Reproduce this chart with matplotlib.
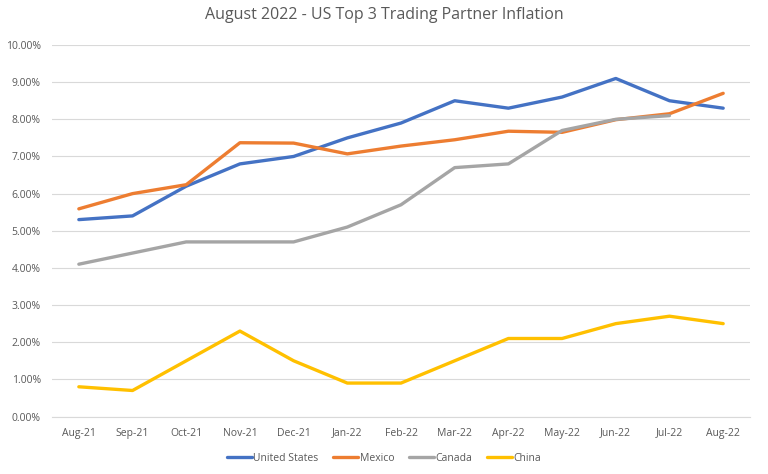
import matplotlib
matplotlib.use("Agg")
import matplotlib.pyplot as plt
from matplotlib.ticker import FuncFormatter

months = ["Aug-21", "Sep-21", "Oct-21", "Nov-21", "Dec-21", "Jan-22", "Feb-22",
          "Mar-22", "Apr-22", "May-22", "Jun-22", "Jul-22", "Aug-22"]

us = [5.3, 5.4, 6.2, 6.8, 7.0, 7.5, 7.9, 8.5, 8.3, 8.6, 9.1, 8.5, 8.3]
mexico = [5.59, 6.0, 6.24, 7.37, 7.36, 7.07, 7.28, 7.45, 7.68, 7.65, 7.99, 8.15, 8.70]
canada = [4.1, 4.4, 4.7, 4.7, 4.7, 5.1, 5.7, 6.7, 6.8, 7.7, 8.0, 8.1]  # no Aug-22 value
china = [0.8, 0.7, 1.5, 2.3, 1.5, 0.9, 0.9, 1.5, 2.1, 2.1, 2.5, 2.7, 2.5]

plt.rcParams['font.family'] = ['Open Sans', 'DejaVu Sans']

fig = plt.figure(figsize=(7.68, 4.74), dpi=100)
ax = fig.add_axes([0.0677, 0.1213, 0.9089, 0.7837])

x = list(range(len(months)))
ax.plot(x, us, color="#4472C4", lw=2.4, label="United States", solid_capstyle="round")
ax.plot(x, mexico, color="#ED7D31", lw=2.4, label="Mexico", solid_capstyle="round")
ax.plot(x[:len(canada)], canada, color="#A5A5A5", lw=2.4, label="Canada", solid_capstyle="round")
ax.plot(x, china, color="#FFC000", lw=2.4, label="China", solid_capstyle="round")

ax.set_xlim(-0.5, len(months) - 0.5)
ax.set_ylim(0, 10)
ax.set_yticks(range(0, 11))
ax.yaxis.set_major_formatter(FuncFormatter(lambda v, p: f"{v:.2f}%"))
ax.set_xticks(x)
ax.set_xticklabels(months)
ax.tick_params(length=0, labelsize=7.5, colors="#595959")
ax.tick_params(axis="x", pad=8)
ax.tick_params(axis="y", pad=8)
ax.grid(axis="y", color="#D9D9D9", lw=0.8)
ax.set_axisbelow(True)
for s in ["top", "right", "left"]:
    ax.spines[s].set_visible(False)
ax.spines["bottom"].set_color("#D9D9D9")

fig.suptitle("August 2022 - US Top 3 Trading Partner Inflation", y=0.985,
             fontsize=11.5, color="#595959")
fig.legend(loc="center", bbox_to_anchor=(0.5, 0.033), ncol=4, frameon=False,
           fontsize=7.5, labelcolor="#595959", handlelength=2.4, handletextpad=0.15,
           columnspacing=1.4)

fig.savefig("out.png", dpi=100)
